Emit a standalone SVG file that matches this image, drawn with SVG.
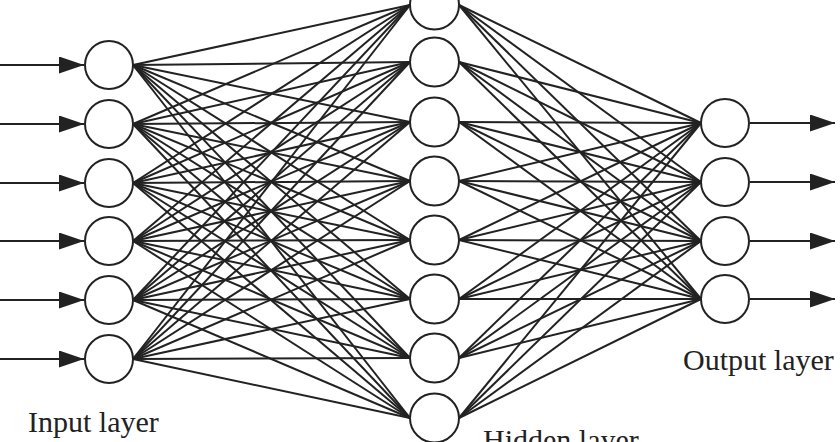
<svg xmlns="http://www.w3.org/2000/svg" width="840" height="442" viewBox="0 0 840 442">
<style>
circle{fill:#fff;stroke:#222;stroke-width:2}
line{stroke:#222;stroke-width:2}
text{font-family:"Liberation Serif",serif;font-size:30px;fill:#222}
</style>
<defs><marker id="a" viewBox="0 0 10 10" refX="10" refY="5" markerWidth="25" markerHeight="17" markerUnits="userSpaceOnUse" orient="auto" preserveAspectRatio="none"><path d="M0,0L10,5L0,10z" fill="#222"/></marker></defs>
<rect width="840" height="442" fill="#fff"/>
<g id="connectors">
<line x1="0" y1="65" x2="84" y2="65" marker-end="url(#a)"/>
<line x1="0" y1="124" x2="84" y2="124" marker-end="url(#a)"/>
<line x1="0" y1="183" x2="84" y2="183" marker-end="url(#a)"/>
<line x1="0" y1="241" x2="84" y2="241" marker-end="url(#a)"/>
<line x1="0" y1="300" x2="84" y2="300" marker-end="url(#a)"/>
<line x1="0" y1="359" x2="84" y2="359" marker-end="url(#a)"/>
<line x1="750" y1="123" x2="835" y2="123" marker-end="url(#a)"/>
<line x1="750" y1="182" x2="835" y2="182" marker-end="url(#a)"/>
<line x1="750" y1="241" x2="835" y2="241" marker-end="url(#a)"/>
<line x1="750" y1="299" x2="835" y2="299" marker-end="url(#a)"/>
<g id="ih">
<line x1="133" y1="65" x2="410" y2="5"/><line x1="133" y1="65" x2="410" y2="62"/><line x1="133" y1="65" x2="410" y2="122"/><line x1="133" y1="65" x2="410" y2="181"/><line x1="133" y1="65" x2="410" y2="240"/><line x1="133" y1="65" x2="410" y2="299"/><line x1="133" y1="65" x2="410" y2="358"/><line x1="133" y1="65" x2="410" y2="418"/>
<line x1="133" y1="124" x2="410" y2="5"/><line x1="133" y1="124" x2="410" y2="62"/><line x1="133" y1="124" x2="410" y2="122"/><line x1="133" y1="124" x2="410" y2="181"/><line x1="133" y1="124" x2="410" y2="240"/><line x1="133" y1="124" x2="410" y2="299"/><line x1="133" y1="124" x2="410" y2="358"/><line x1="133" y1="124" x2="410" y2="418"/>
<line x1="133" y1="183" x2="410" y2="5"/><line x1="133" y1="183" x2="410" y2="62"/><line x1="133" y1="183" x2="410" y2="122"/><line x1="133" y1="183" x2="410" y2="181"/><line x1="133" y1="183" x2="410" y2="240"/><line x1="133" y1="183" x2="410" y2="299"/><line x1="133" y1="183" x2="410" y2="358"/><line x1="133" y1="183" x2="410" y2="418"/>
<line x1="133" y1="241" x2="410" y2="5"/><line x1="133" y1="241" x2="410" y2="62"/><line x1="133" y1="241" x2="410" y2="122"/><line x1="133" y1="241" x2="410" y2="181"/><line x1="133" y1="241" x2="410" y2="240"/><line x1="133" y1="241" x2="410" y2="299"/><line x1="133" y1="241" x2="410" y2="358"/><line x1="133" y1="241" x2="410" y2="418"/>
<line x1="133" y1="300" x2="410" y2="5"/><line x1="133" y1="300" x2="410" y2="62"/><line x1="133" y1="300" x2="410" y2="122"/><line x1="133" y1="300" x2="410" y2="181"/><line x1="133" y1="300" x2="410" y2="240"/><line x1="133" y1="300" x2="410" y2="299"/><line x1="133" y1="300" x2="410" y2="358"/><line x1="133" y1="300" x2="410" y2="418"/>
<line x1="133" y1="359" x2="410" y2="5"/><line x1="133" y1="359" x2="410" y2="62"/><line x1="133" y1="359" x2="410" y2="122"/><line x1="133" y1="359" x2="410" y2="181"/><line x1="133" y1="359" x2="410" y2="240"/><line x1="133" y1="359" x2="410" y2="299"/><line x1="133" y1="359" x2="410" y2="358"/><line x1="133" y1="359" x2="410" y2="418"/>
</g>
<g id="ho">
<line x1="459" y1="5" x2="701" y2="123"/><line x1="459" y1="5" x2="701" y2="182"/><line x1="459" y1="5" x2="701" y2="241"/><line x1="459" y1="5" x2="701" y2="299"/>
<line x1="459" y1="62" x2="701" y2="123"/><line x1="459" y1="62" x2="701" y2="182"/><line x1="459" y1="62" x2="701" y2="241"/><line x1="459" y1="62" x2="701" y2="299"/>
<line x1="459" y1="122" x2="701" y2="123"/><line x1="459" y1="122" x2="701" y2="182"/><line x1="459" y1="122" x2="701" y2="241"/><line x1="459" y1="122" x2="701" y2="299"/>
<line x1="459" y1="181" x2="701" y2="123"/><line x1="459" y1="181" x2="701" y2="182"/><line x1="459" y1="181" x2="701" y2="241"/><line x1="459" y1="181" x2="701" y2="299"/>
<line x1="459" y1="240" x2="701" y2="123"/><line x1="459" y1="240" x2="701" y2="182"/><line x1="459" y1="240" x2="701" y2="241"/><line x1="459" y1="240" x2="701" y2="299"/>
<line x1="459" y1="299" x2="701" y2="123"/><line x1="459" y1="299" x2="701" y2="182"/><line x1="459" y1="299" x2="701" y2="241"/><line x1="459" y1="299" x2="701" y2="299"/>
<line x1="459" y1="358" x2="701" y2="123"/><line x1="459" y1="358" x2="701" y2="182"/><line x1="459" y1="358" x2="701" y2="241"/><line x1="459" y1="358" x2="701" y2="299"/>
<line x1="459" y1="418" x2="701" y2="123"/><line x1="459" y1="418" x2="701" y2="182"/><line x1="459" y1="418" x2="701" y2="241"/><line x1="459" y1="418" x2="701" y2="299"/>
</g>
</g>
<g id="input">
<circle id="i1" cx="109" cy="65" r="24"/><circle id="i2" cx="109" cy="124" r="24"/><circle id="i3" cx="109" cy="183" r="24"/><circle id="i4" cx="109" cy="241" r="24"/><circle id="i5" cx="109" cy="300" r="24"/><circle id="i6" cx="109" cy="359" r="24"/>
</g>
<g id="hidden">
<circle id="h1" cx="434.5" cy="5" r="24.5"/><circle id="h2" cx="434.5" cy="62" r="24.5"/><circle id="h3" cx="434.5" cy="122" r="24.5"/><circle id="h4" cx="434.5" cy="181" r="24.5"/><circle id="h5" cx="434.5" cy="240" r="24.5"/><circle id="h6" cx="434.5" cy="299" r="24.5"/><circle id="h7" cx="434.5" cy="358" r="24.5"/><circle id="h8" cx="434.5" cy="418" r="24.5"/>
</g>
<g id="output">
<circle id="o1" cx="725" cy="123" r="24"/><circle id="o2" cx="725" cy="182" r="24"/><circle id="o3" cx="725" cy="241" r="24"/><circle id="o4" cx="725" cy="299" r="24"/>
</g>
<g id="labels">
<text x="28" y="432">Input layer</text>
<text x="483" y="450">Hidden layer</text>
<text x="683" y="370">Output layer</text>
</g>
</svg>
